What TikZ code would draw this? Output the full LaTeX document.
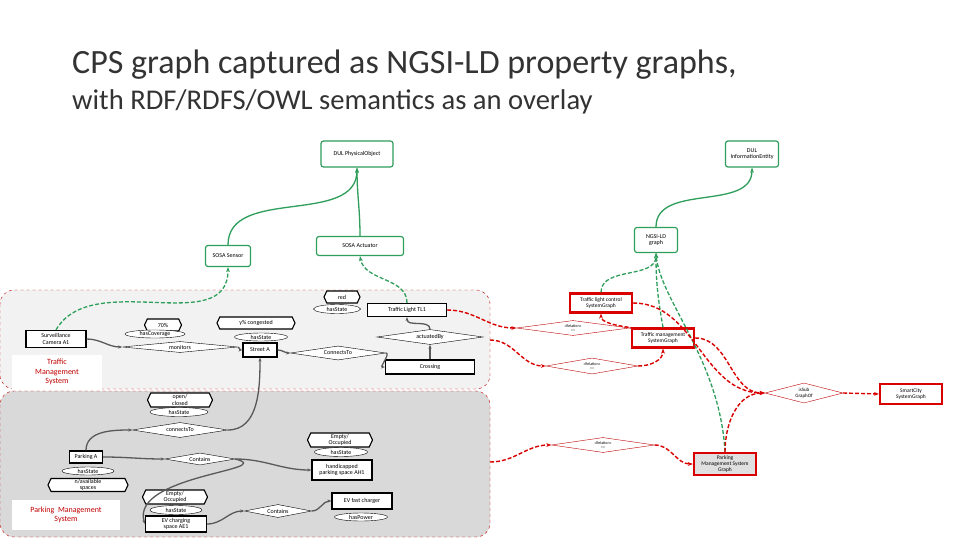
\documentclass[tikz,border=0pt]{standalone}
\usepackage{fontspec}
\setmainfont{Carlito}
\usetikzlibrary{shapes.geometric,shapes.symbols,arrows.meta}
\definecolor{gr}{HTML}{2E9E5B}
\definecolor{rd}{HTML}{C00000}
\definecolor{lk}{HTML}{595959}
\begin{document}
\begin{tikzpicture}[x=1pt,y=-1pt,
  every node/.style={font=\fontsize{6}{6.5}\selectfont, align=center, inner sep=0.5pt},
  green/.style={draw=gr, line width=1.2pt, rounded corners=2.5pt, fill=white},
  ent/.style={draw=black, line width=1.2pt, fill=white},
  val/.style={draw=black, line width=1.1pt, fill=white, signal, signal to=west and east, signal pointer angle=130},
  prop/.style={draw=black, ellipse, fill=white, inner sep=0pt},
  rel/.style={draw=black, diamond, fill=white, inner sep=0pt, aspect=8},
  rgraph/.style={draw=red!85!black, line width=2.2pt, fill=white, font=\fontsize{5.5}{6}\selectfont},
  rrel/.style={draw=rd, diamond, fill=white, inner sep=0pt, aspect=7, font=\fontsize{4}{4.5}\selectfont},
  lnk/.style={draw=lk, line width=1.3pt, -{Stealth[length=4pt]}},
  glnk/.style={draw=gr, line width=1.3pt, -{Stealth[length=5pt]}},
  gdash/.style={glnk, dash pattern=on 4pt off 2pt},
  rlnk/.style={draw=red!85!black, line width=1.4pt, dash pattern=on 4pt off 2pt, -{Stealth[length=5pt]}}
]
\useasboundingbox (0,0) rectangle (960,540);
\fill[white] (0,0) rectangle (960,540);
\node[anchor=west, font=\fontsize{34}{36}\selectfont, text=black!80, inner sep=0] (t1) at (72,65) {CPS graph captured as NGSI-LD property graphs,};
\node[anchor=west, font=\fontsize{28.6}{30}\selectfont, text=black!80, inner sep=0] (t2) at (72,102) {with RDF/RDFS/OWL semantics as an overlay};

% regions
\draw[rd, dashed, fill=black!5, rounded corners=14pt] (0,290) rectangle (490,389);
\draw[rd, dashed, fill=black!15, rounded corners=14pt] (0,391) rectangle (490,537);
\node[fill=white, text=rd, font=\fontsize{8}{9.5}\selectfont, minimum width=90, minimum height=35] (tms) at (57,372) {Traffic\\Management\\System};
\node[fill=white, text=rd, font=\fontsize{8}{9.5}\selectfont, minimum width=108, minimum height=30] (pms) at (66,515) {Parking\ \ Management\\System};

% green ontology nodes
\node[green, minimum width=72, minimum height=26] (po) at (357,154) {DUL PhysicalObject};
\node[green, minimum width=53, minimum height=26] (ie) at (752,154) {DUL\\InformationEntity};
\node[green, minimum width=43, minimum height=25] (ngsi) at (656,240) {NGSI-LD\\graph};
\node[green, minimum width=87, minimum height=19] (act) at (360,246) {SOSA Actuator};
\node[green, minimum width=45, minimum height=21] (sen) at (228,256) {SOSA Sensor};

% entities
\node[ent, minimum width=60, minimum height=17] (cam) at (56,339) {Surveillance\\Camera A1};
\node[ent, minimum width=34, minimum height=14] (st) at (260,350) {Street A};
\node[ent, minimum width=79, minimum height=13] (tl) at (407,310) {Traffic\ Light TL1};
\node[ent, minimum width=89, minimum height=14] (cr) at (430,367) {Crossing};
\node[ent, minimum width=33, minimum height=12] (pa) at (86,457) {Parking A};
\node[ent, minimum width=60, minimum height=20] (hc) at (342,470) {handicapped\\parking space AH1};
\node[ent, minimum width=60, minimum height=16] (evf) at (362,501) {EV fast charger};
\node[ent, minimum width=61, minimum height=16] (evc) at (176,524) {EV charging\\space AE1};

% values
\node[val, minimum width=36, minimum height=12] (vred) at (342,297) {red};
\node[val, minimum width=37, minimum height=12] (v70) at (163,325) {70\%};
\node[val, minimum width=78, minimum height=12] (vy) at (256,323) {y\% congested};
\node[val, minimum width=65, minimum height=14] (voc) at (180,400) {open/\\closed};
\node[val, minimum width=65, minimum height=14] (veo1) at (340,440) {Empty/\\Occupied};
\node[val, minimum width=80, minimum height=13] (vn) at (88,485) {n/available\\spaces};
\node[val, minimum width=65, minimum height=14] (veo2) at (175,497) {Empty/\\Occupied};

% properties
\node[prop, minimum width=47, minimum height=9] (p1) at (337,309) {hasState};
\node[prop, minimum width=60, minimum height=8] (p2) at (155,334) {hasCoverage};
\node[prop, minimum width=53, minimum height=8] (p3) at (261,337) {hasState};
\node[prop, minimum width=58, minimum height=9] (p4) at (179,412) {hasState};
\node[prop, minimum width=53, minimum height=9] (p5) at (341,452) {hasState};
\node[prop, minimum width=52, minimum height=8] (p6) at (88,471) {hasState};
\node[prop, minimum width=52, minimum height=9] (p7) at (176,510) {hasState};
\node[prop, minimum width=53, minimum height=8] (p8) at (361,517) {hasPower};

% relationships
\node[rel, aspect=10, minimum width=115, minimum height=11] (rmon) at (180,347) {monitors};
\node[rel, aspect=7, minimum width=95, minimum height=14] (rcon) at (338,353) {ConnectsTo};
\node[rel, aspect=7, minimum width=106, minimum height=15] (ract) at (430,337) {actuatedBy};
\node[rel, aspect=6.5, minimum width=95, minimum height=15] (rcon2) at (180,430) {connectsTo};
\node[rel, aspect=5.5, minimum width=70, minimum height=12] (rc1) at (200,459) {Contains};
\node[rel, aspect=5, minimum width=67, minimum height=13] (rc2) at (278,511) {Contains};

% red graph nodes
\node[rgraph, minimum width=62, minimum height=19] (tlc) at (601,303) {Traffic light control\\SystemGraph};
\node[rgraph, minimum width=62, minimum height=19] (tmg) at (663,338) {Traffic management\\SystemGraph};
\node[rgraph, fill=black!12, minimum width=62, minimum height=22] (pmg) at (725,464) {Parking\\Management System\\Graph};
\node[rgraph, minimum width=62, minimum height=20] (scg) at (911,394) {SmartCity\\SystemGraph};
\node[rrel, aspect=7.5, minimum width=113, minimum height=15] (d1) at (573,328) {«Relation»\\<<>>};
\node[rrel, aspect=5.7, minimum width=92, minimum height=16] (d2) at (592,366) {«Relation»\\<<>>};
\node[rrel, aspect=6.9, minimum width=103, minimum height=15] (d3) at (603,445) {«Relation»\\<<>>};
\node[rrel, aspect=3.9, minimum width=78, minimum height=20, font=\fontsize{5}{5.5}\selectfont] (sub) at (804,393) {isSub\\GraphOf};
\coordinate (e1) at (490,340);
\coordinate (e2) at (490,462);

% gray links
\draw[lnk] (cam.east) to[out=0,in=180] (rmon.west);
\draw[lnk] (rmon.east) to[out=0,in=180] (st.west);
\draw[lnk] (st.east) to[out=0,in=180] (rcon.west);
\draw[lnk] (rcon.east) to[out=0,in=180] (cr.west);
\draw[lnk] (cr.north) -- (ract.south);
\draw[lnk] (ract.north) to[out=90,in=-90] (tl.south);
\draw[lnk] (pa.north) to[out=90,in=180] (rcon2.west);
\draw[lnk] (rcon2.east) to[out=0,in=-90] (st.south);
\draw[lnk] (pa.east) to[out=0,in=180] (rc1.west);
\draw[lnk] (rc1.east) to[out=0,in=180] (hc.west);
\draw[lnk] (rc1.east) .. controls (280,470) and (130,475) .. (evc.west);
\draw[lnk] (evc.east) to[out=0,in=180] (rc2.west);
\draw[lnk] (rc2.east) to[out=0,in=180] (evf.west);

% green links
\draw[glnk] (sen.north) to[out=90,in=-90] (po.south);
\draw[glnk] (act.north) to[out=90,in=-90] (po.south);
\draw[glnk] (ngsi.north) to[out=90,in=-90] (ie.south);
\draw[gdash] (cam.north) to[out=60,in=-90] (sen.south);
\draw[gdash] (tl.north) to[out=90,in=-80] (act.south);
\draw[gdash] (tlc.north) to[out=90,in=-90] (ngsi.south);
\draw[gdash] (tmg.north) to[out=100,in=-90] (ngsi.south);
\draw[gdash] (pmg.north) .. controls (720,360) and (660,300) .. (ngsi.south);

% red links
\draw[rlnk] (tl.east) to[out=0,in=180] (d1.west);
\draw[rlnk] (d1.east) to[out=0,in=-90] (tlc.south);
\draw[rlnk] (e1) to[out=0,in=180] (d2.west);
\draw[rlnk] (d2.east) to[out=0,in=-90] (tmg.south);
\draw[rlnk] (e2) to[out=0,in=180] (d3.west);
\draw[rlnk] (d3.east) to[out=0,in=180] (pmg.west);
\draw[rlnk] (tlc.east) to[out=0,in=180] (sub.west);
\draw[rlnk] (tmg.east) to[out=0,in=180] (sub.west);
\draw[rlnk] (pmg.north) to[out=90,in=180] (sub.west);
\draw[rlnk] (sub.east) -- (scg.west);
\end{tikzpicture}
\end{document}
